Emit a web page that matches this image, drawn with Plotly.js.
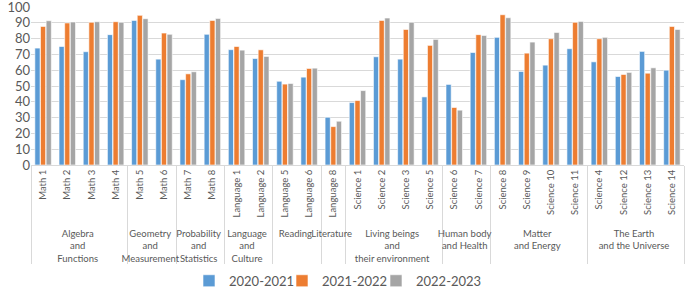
<!DOCTYPE html>
<html><head><meta charset="utf-8">
<script src="https://cdn.plot.ly/plotly-3.0.1.min.js"></script>
<style>html,body{margin:0;padding:0;background:#fff}#c{width:685px;height:291px}</style>
</head><body><div id="c"></div>
<script>
const parents = [
 "Algebra<br>and<br>Functions","Algebra<br>and<br>Functions","Algebra<br>and<br>Functions","Algebra<br>and<br>Functions",
 "Geometry<br>and<br>Measurement","Geometry<br>and<br>Measurement",
 "Probability<br>and<br>Statistics","Probability<br>and<br>Statistics",
 "Language<br>and<br>Culture","Language<br>and<br>Culture",
 "Reading","Reading",
 "Literature",
 "Living beings<br>and<br>their environment","Living beings<br>and<br>their environment","Living beings<br>and<br>their environment","Living beings<br>and<br>their environment",
 "Human body<br>and Health","Human body<br>and Health",
 "Matter<br>and Energy","Matter<br>and Energy","Matter<br>and Energy","Matter<br>and Energy",
 "The Earth<br>and the Universe","The Earth<br>and the Universe","The Earth<br>and the Universe","The Earth<br>and the Universe"
];
const items = ["Math 1","Math 2","Math 3","Math 4","Math 5","Math 6","Math 7","Math 8",
 "Language 1","Language 2","Language 5","Language 6","Language 8",
 "Science 1","Science 2","Science 3","Science 5","Science 6","Science 7",
 "Science 8","Science 9","Science 10","Science 11","Science 4","Science 12","Science 13","Science 14"];
const y2021 = [74,75,71.7,82.5,91.5,67,54,82.7,73,67.4,53,55.6,30.2,39.5,68.5,67,43.1,51,71.2,80.8,59.2,63.2,73.6,65.3,56,71.9,60];
const y2122 = [87.7,89.9,90.3,90.7,94.7,83.5,57.7,91.5,75,72.9,51.2,61.1,24.3,40.8,91.5,85.8,75.7,36.4,82.5,95.1,70.8,79.9,90.3,79.9,57.3,58.1,87.7];
const y2223 = [91.3,90.5,90.7,90.3,92.6,82.7,59,92.8,72.7,68.7,51.6,61.3,27.7,47.1,93,90.3,79.5,34.7,82,93.2,77.8,83.9,90.9,80.8,58.6,61.5,85.8];
const seriesNames = ["2020-2021","2021-2022","2022-2023"];
const colors = ["#5B9BD5","#ED7D31","#A5A5A5"];
const vals = [y2021,y2122,y2223];
const legendIds = ['legend','legend2','legend3'];
const traces = vals.map((v,i)=>({
  type:'bar', name:seriesNames[i], x:[parents,items], y:v, legend:legendIds[i],
  marker:{color:colors[i], line:{color:'#ffffff', width:0.6}}
}));
const font = "Lato, 'Open Sans', sans-serif";
const legendX = [189, 282, 376];
const layout = {
  width:685, height:291,
  margin:{l:31,r:1,t:7,b:126},
  barmode:'group', bargap:0.3, bargroupgap:0.08,
  paper_bgcolor:'#fff', plot_bgcolor:'#fff',
  font:{family:font, color:'#595959', size:9.5},
  xaxis:{type:'multicategory', tickangle:-90, tickfont:{size:9.5, color:'#595959'},
    showline:true, linecolor:'#d9d9d9', linewidth:1, showgrid:false,
    showdividers:true, dividercolor:'#d9d9d9', dividerwidth:1, ticks:''},
  yaxis:{range:[0,100], dtick:10, showgrid:true, gridcolor:'#d9d9d9', gridwidth:1,
    zeroline:false, tickfont:{size:13, color:'#595959'}, ticks:'', showline:false,
    ticklabeloverflow:'allow'},
  showlegend:true
};
legendIds.forEach((id,i)=>{
  layout[id] = {orientation:'h', xref:'container', yref:'container', x:legendX[i]/685, xanchor:'left',
    y:0.035, yanchor:'middle', font:{size:13, color:'#595959'}, bgcolor:'rgba(0,0,0,0)'};
});
Plotly.newPlot('c', traces, layout, {displayModeBar:false, staticPlot:true});
</script></body></html>
